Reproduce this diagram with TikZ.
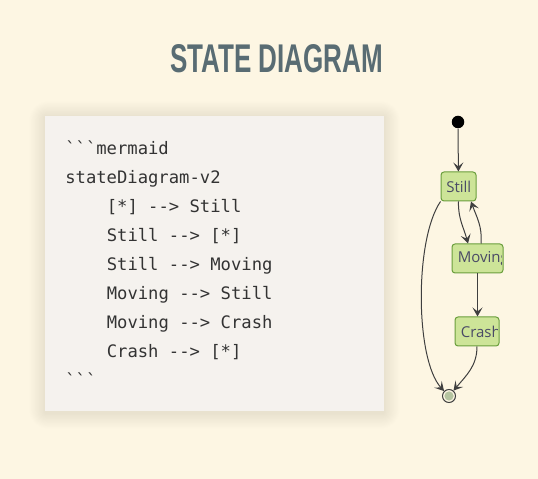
\documentclass[tikz,border=0pt]{standalone}
\usepackage{fontspec}
\usepackage{graphicx}
\usetikzlibrary{arrows.meta}
\usetikzlibrary{positioning}
\newfontfamily\titlefont{Liberation Sans}
\newfontfamily\codefont{DejaVu Sans Mono}[Ligatures=TeXOff]
\newfontfamily\labelfont{Open Sans}
\definecolor{page}{HTML}{FDF6E3}
\definecolor{codebg}{HTML}{F5F2EE}
\definecolor{codetext}{HTML}{333333}
\definecolor{titlecol}{HTML}{596C73}
\definecolor{statefill}{HTML}{CDE498}
\definecolor{stateline}{HTML}{6A9E3C}
\definecolor{statetext}{HTML}{4A4A66}
\definecolor{edgecol}{HTML}{3F3F3F}
\definecolor{endfill}{HTML}{B5C4A0}

\begin{document}
\begin{tikzpicture}[
            x = 1pt, y = 1pt,
            > = {Stealth[length=9pt,width=10pt,inset=4pt]}, % arrow head style
            semithick % line style
            ]

        \tikzset{
            codeline/.style = {anchor = base west, inner sep = 0pt,
                font = \codefont\fontsize{17.2}{20}\selectfont, text = codetext},
            statebox/.style = {draw = stateline, line width = 1pt, fill = statefill,
                rounded corners = 3pt, minimum height = 29pt, inner sep = 0pt},
            statelabel/.style = {anchor = west, inner sep = 0pt,
                font = \labelfont\fontsize{15}{17}\selectfont, text = statetext},
            edge/.style = {->, draw = edgecol, line width = 1pt}
        }

        % page and title
        \fill[page] (0,0) rectangle (538,479);
        \useasboundingbox (0,0) rectangle (538,479);
        \node (title) at (276.5,420) [inner sep=0pt, text=titlecol]
            {\resizebox{213pt}{28pt}{\titlefont\bfseries STATE DIAGRAM}};

        % code panel
        \foreach \s in {1,...,20}
            \fill[black!50!brown, opacity=0.0045, rounded corners=\s pt]
                (45-0.8*\s,68-0.8*\s-2) rectangle (384+0.8*\s,363+0.8*\s-1);
        \node (code) [fill=codebg, minimum width=339pt, minimum height=295pt,
            inner sep=0pt] at (214.5,215.5) {};

        \node[codeline] (L1) at (65,324) {\textasciigrave\textasciigrave\textasciigrave mermaid};
        \node[codeline] (L2) at (65,295) {stateDiagram-v2};
        \node[codeline] (L3) at (106.5,266) {[*] --> Still};
        \node[codeline] (L4) at (106.5,237) {Still --> [*]};
        \node[codeline] (L5) at (106.5,208) {Still --> Moving};
        \node[codeline] (L6) at (106.5,179) {Moving --> Still};
        \node[codeline] (L7) at (106.5,150) {Moving --> Crash};
        \node[codeline] (L8) at (106.5,121) {Crash --> [*]};
        \node[codeline] (L9) at (65,92) {\textasciigrave\textasciigrave\textasciigrave};

        % states
        \node[circle, fill=black, minimum size=12.5pt, inner sep=0pt] (start) at (458,357) {};
        \node[statebox, minimum width=35pt] (still) at (458.5,292.5) {};
        \node[statebox, minimum width=51pt] (moving) at (477.5,220.5) {};
        \node[statebox, minimum width=44pt] (crash) at (477,147.5) {};
        \node[circle, draw=edgecol, line width=1pt, fill=page, minimum size=13pt,
            inner sep=0pt] (stop) at (449,83) {};
        \fill[endfill] (stop.center) circle (4.6pt);

        % clipped labels
        \begin{scope}
            \clip ([xshift=2pt]still.south west) rectangle ([xshift=-2.5pt]still.north east);
            \node[statelabel] (stilltext) at ([xshift=5.5pt]still.west) {Still};
        \end{scope}
        \begin{scope}
            \clip ([xshift=2pt]moving.south west) rectangle ([xshift=-2.5pt]moving.north east);
            \node[statelabel] (movingtext) at ([xshift=6pt]moving.west) {Moving};
        \end{scope}
        \begin{scope}
            \clip ([xshift=2pt]crash.south west) rectangle ([xshift=-2.5pt]crash.north east);
            \node[statelabel] (crashtext) at ([xshift=6pt]crash.west) {Crash};
        \end{scope}

        % transitions
        \draw[edge] (start) -- (still);
        \draw[edge] (still.south west) .. controls +(-26,-38) and +(-29,32) .. (stop.north west);
        \draw[edge] (still.south) to[out=-92, in=105] ([xshift=-9.5pt]moving.north);
        \draw[edge] ([xshift=3.5pt]moving.north) to[out=85, in=-70] ([xshift=12.5pt]still.south);
        \draw[edge] (moving.south) -- (crash.north -| moving.south);
        \draw[edge] (crash.south) to[out=-90, in=50] (stop);

\end{tikzpicture}
\end{document}
